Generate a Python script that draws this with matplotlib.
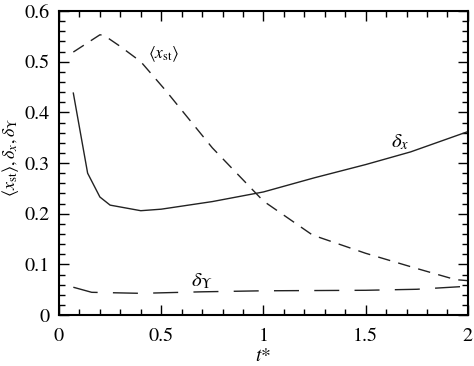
import matplotlib
matplotlib.use("Agg")
import matplotlib.pyplot as plt
from matplotlib.ticker import MultipleLocator

plt.rcParams['font.family'] = ['STIXGeneral', 'DejaVu Serif']
plt.rcParams['mathtext.fontset'] = 'stix'

t_dx = [0.07, 0.14, 0.2, 0.25, 0.4, 0.5, 0.75, 1.0, 1.25, 1.5, 1.72, 2.0]
dx = [0.438, 0.28, 0.233, 0.217, 0.206, 0.209, 0.224, 0.243, 0.271, 0.297, 0.322, 0.362]

t_xst = [0.07, 0.2, 0.22, 0.3, 0.4, 0.52, 0.75, 1.0, 1.24, 1.5, 1.75, 1.94, 2.0]
xst = [0.519, 0.553, 0.552, 0.53, 0.5, 0.444, 0.33, 0.225, 0.158, 0.122, 0.092, 0.07, 0.068]

t_dy = [0.07, 0.16, 0.4, 0.7, 1.0, 1.5, 1.75, 2.0]
dy = [0.055, 0.045, 0.043, 0.046, 0.048, 0.049, 0.051, 0.057]

xticks = [0, 0.5, 1, 1.5, 2]
xticklabels = ["0", "0.5", "1", "1.5", "2"]
yticks = [0, 0.1, 0.2, 0.3, 0.4, 0.5, 0.6]
yticklabels = ["0", "0.1", "0.2", "0.3", "0.4", "0.5", "0.6"]

fig = plt.figure(figsize=(4.74, 3.66), dpi=100)
ax = fig.add_axes([0.1245, 0.139, 0.8625, 0.831])

ax.plot(t_dx, dx, color='#222222', lw=1.0)
ax.plot(t_xst, xst, color='#222222', lw=1.0, dashes=(9, 6))
ax.plot(t_dy, dy, color='#222222', lw=1.0, dashes=(18, 11))

ax.set_xlim(0, 2)
ax.set_ylim(0, 0.6)
ax.set_xticks(xticks)
ax.set_xticklabels(xticklabels)
ax.set_yticks(yticks)
ax.set_yticklabels(yticklabels)
ax.xaxis.set_minor_locator(MultipleLocator(0.1))
ax.yaxis.set_minor_locator(MultipleLocator(0.02))
ax.tick_params(which='both', direction='in', top=True, right=True, labelsize=14.5, width=1.0)
ax.tick_params(axis='x', pad=9)
ax.tick_params(axis='y', pad=7)
ax.tick_params(which='major', length=7)
ax.tick_params(which='minor', length=4)
for s in ax.spines.values():
    s.set_linewidth(1.5)

ax.set_xlabel(r'$t$*', fontsize=14, va='center')
ax.xaxis.set_label_coords(0.5, -0.135)
ax.set_ylabel(r'$\langle x_{\rm st}\rangle, \delta_x, \delta_\Upsilon$', fontsize=13, va='center')
ax.yaxis.set_label_coords(-0.118, 0.52)

ax.text(0.51, 0.515, r'$\langle x_{\rm st}\rangle$', fontsize=12.5, ha='center', va='center')
ax.text(1.67, 0.34, r'$\delta_x$', fontsize=15, ha='center', va='center')
ax.text(0.70, 0.066, r'$\delta_\Upsilon$', fontsize=15, ha='center', va='center')

fig.savefig('out.png', dpi=100)
